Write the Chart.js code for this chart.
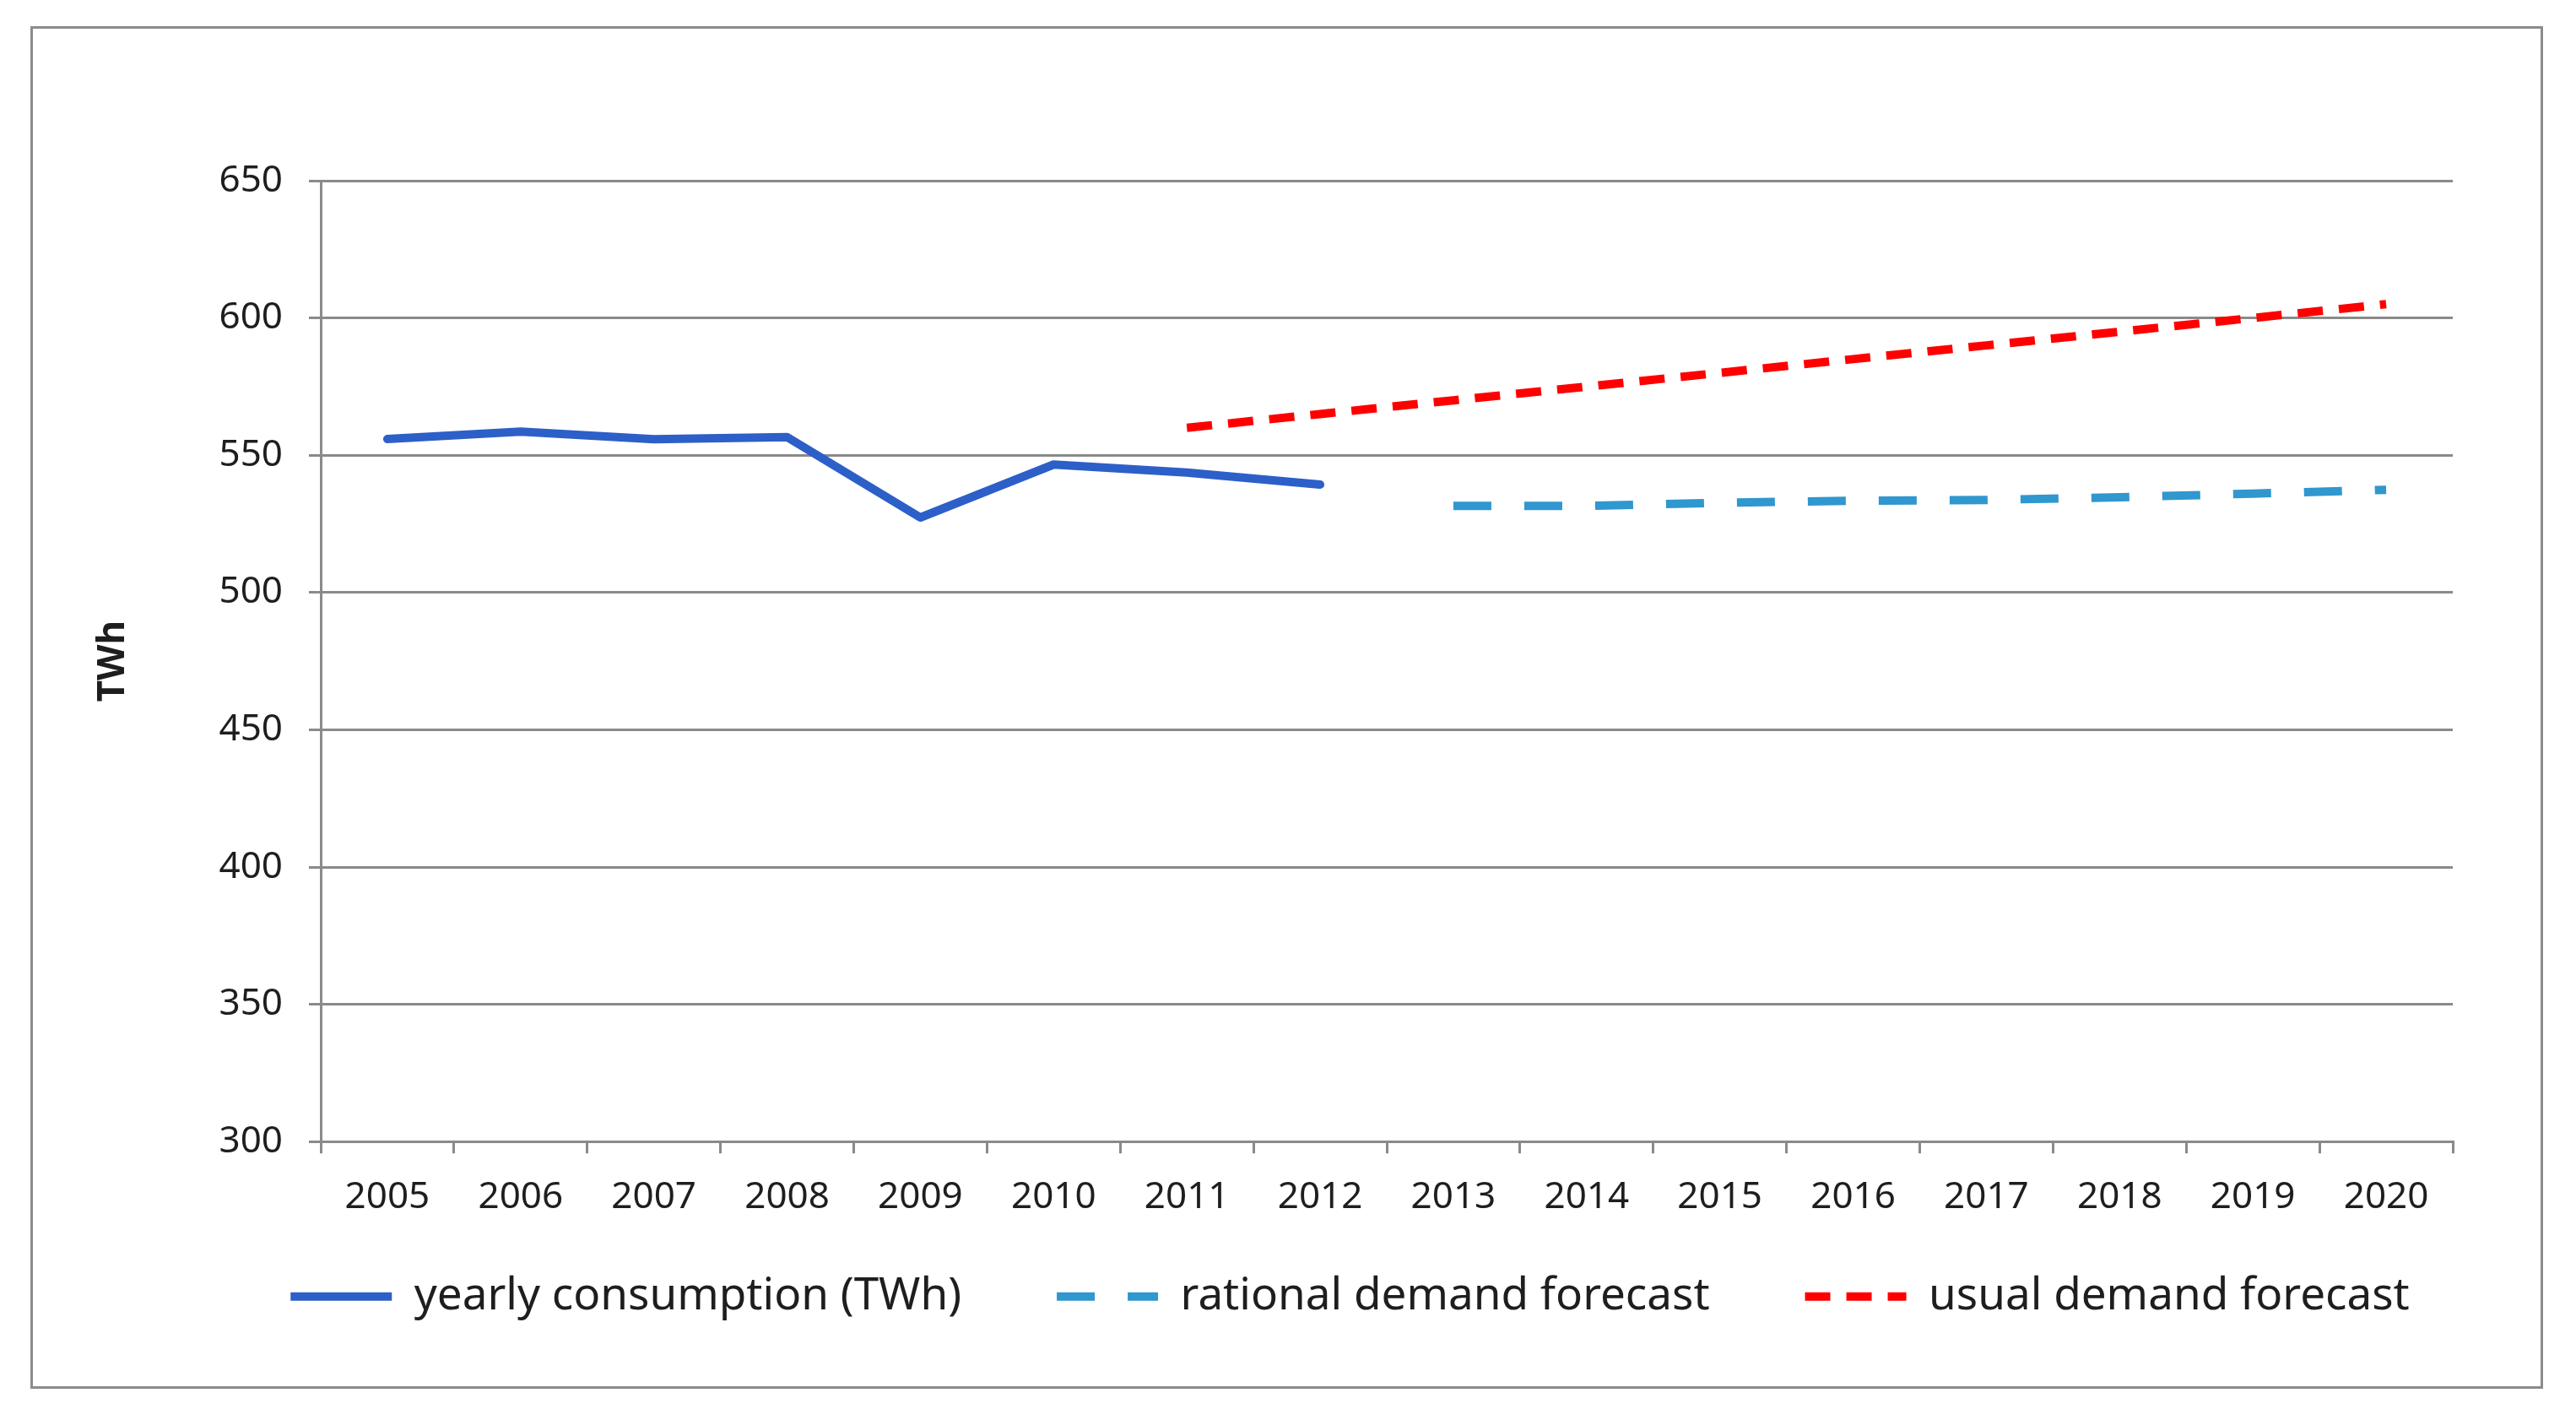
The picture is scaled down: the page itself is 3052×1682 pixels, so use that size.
<!DOCTYPE html>
<html><head><meta charset="utf-8">
<script src="https://cdn.jsdelivr.net/npm/chart.js@4/dist/chart.umd.min.js"></script>
<style>
html,body{margin:0;padding:0;background:#fff;width:3052px;height:1682px;overflow:hidden}
#frame{position:absolute;left:36px;top:31px;width:2971px;height:1608px;border:3px solid #8c8c8c;background:#fff}
canvas{display:block}
</style></head><body>
<div id="frame"><canvas id="c" width="2971" height="1608"></canvas></div>
<script>
const years = ['2005','2006','2007','2008','2009','2010','2011','2012','2013','2014','2015','2016','2017','2018','2019','2020'];
const yearlyConsumption = [555.9, 558.6, 555.8, 556.6, 527.3, 546.6, 543.7, 539.3, null, null, null, null, null, null, null, null];
const rationalForecast = [null, null, null, null, null, null, null, null, 531.5, 531.5, 532.7, 533.4, 533.7, 534.7, 536.0, 537.4];
const usualForecast = [null, null, null, null, null, null, 560, 565, 570, 575, 580, 585, 590, 595, 600, 605];
const seriesNames = ['yearly consumption (TWh)', 'rational demand forecast', 'usual demand forecast'];
const yMin = 300, yMax = 650, yStep = 50;
const yTitle = 'TWh';

const GRID = '#8a8a8a';
const TEXT = '#1e1e1e';
const FONT = "'Noto Sans', 'DejaVu Sans', sans-serif";

const placeLegend = {
  id: 'placeLegend',
  afterLayout(chart) {
    const lg = chart.legend;
    if (!lg) return;
    const h = lg.height;
    lg.top = chart.chartArea.bottom + 44;
    lg.bottom = lg.top + h;
    lg.left += 107; lg.right += 107;
  }
};

new Chart(document.getElementById('c'), {
  type: 'line',
  data: {
    labels: years,
    datasets: [
      { label: seriesNames[0], data: yearlyConsumption, borderColor: '#2d5fc8', backgroundColor: '#2d5fc8',
        borderWidth: 10, pointRadius: 0, tension: 0, borderCapStyle: 'round', borderJoinStyle: 'round' },
      { label: seriesNames[1], data: rationalForecast, borderColor: '#3097cf', backgroundColor: '#3097cf',
        borderWidth: 10, pointRadius: 0, tension: 0, borderDash: [45, 39], borderCapStyle: 'butt' },
      { label: seriesNames[2], data: usualForecast, borderColor: '#ff0000', backgroundColor: '#ff0000',
        borderWidth: 10, pointRadius: 0, tension: 0, borderDash: [30, 19], borderCapStyle: 'butt' }
    ]
  },
  options: {
    responsive: false,
    animation: false,
    devicePixelRatio: 1,
    layout: { padding: { left: 40, right: 104, top: 180, bottom: -5 } },
    plugins: {
      title: { display: false },
      tooltip: { enabled: false },
      legend: {
        position: 'bottom',
        fullSize: true,
        labels: {
          usePointStyle: true,
          pointStyle: 'line',
          pointStyleWidth: 120,
          padding: 113,
          color: TEXT,
          font: { family: FONT, size: 53 },
          generateLabels(chart) {
            const items = Chart.defaults.plugins.legend.labels.generateLabels(chart);
            items.forEach(it => {
              const ds = chart.data.datasets[it.datasetIndex];
              it.lineDash = ds.borderDash || [];
              it.lineDashOffset = 0;
              it.strokeStyle = ds.borderColor;
              it.fillStyle = ds.borderColor;
              it.lineWidth = ds.borderWidth;
              it.lineCap = 'butt';
              it.pointStyle = 'line';
            });
            return items;
          }
        }
      }
    },
    scales: {
      x: {
        offset: true,
        grid: { offset: true, drawOnChartArea: false, drawTicks: true, tickLength: 14, color: GRID, lineWidth: 3 },
        border: { display: true, color: GRID, width: 3 },
        ticks: { color: TEXT, font: { family: FONT, size: 44 }, padding: 26, maxRotation: 0, autoSkip: false }
      },
      y: {
        min: yMin, max: yMax,
        afterFit(scale) { scale.width = 301; },
        grid: { color: GRID, lineWidth: 3, drawTicks: true, tickLength: 14 },
        border: { display: true, color: GRID, width: 3 },
        ticks: { stepSize: yStep, color: TEXT, font: { family: FONT, size: 44 }, padding: 31 },
        title: { display: true, text: yTitle, color: TEXT, font: { family: FONT, size: 44, weight: 'bold' }, padding: { top: 29, bottom: 0 } }
      }
    }
  },
  plugins: [placeLegend]
});
</script>
</body></html>
